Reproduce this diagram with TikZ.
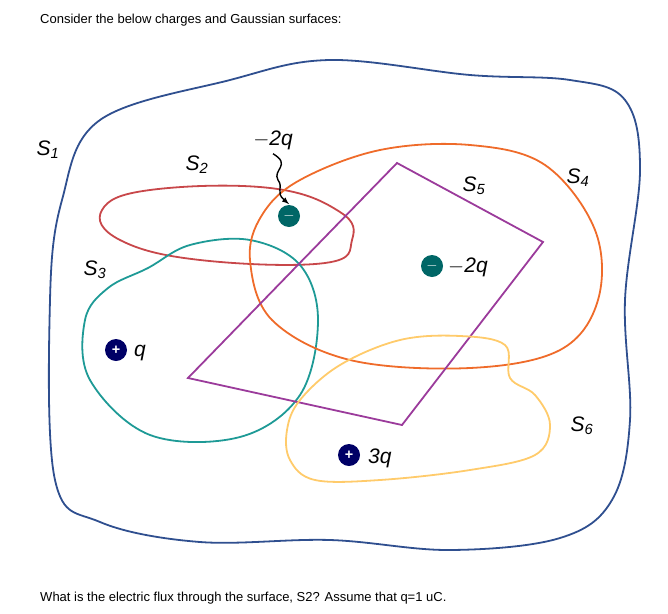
\documentclass[tikz,border=0pt]{standalone}
\usepackage{fontspec}
\setmainfont{Liberation Sans}
\definecolor{sone}{HTML}{2F4F8F}
\definecolor{stwo}{HTML}{C8474A}
\definecolor{sthree}{HTML}{1E9A96}
\definecolor{sfour}{HTML}{EF6B2A}
\definecolor{sfive}{HTML}{9B3B9B}
\definecolor{ssix}{HTML}{FFCB6B}
\begin{document}
\begin{tikzpicture}[x=1pt,y=-1pt,line width=1.8pt,
 lab/.style={font=\fontsize{21}{21}\selectfont\itshape},
 txt/.style={font=\fontsize{13}{15}\selectfont,anchor=west},
 negq/.style={circle,fill=teal!80!black,minimum size=22pt,inner sep=0pt,text=white,font=\bfseries\Large},
 posq/.style={circle,fill=blue!40!black,minimum size=22pt,inner sep=0pt,text=white,font=\bfseries\Large}]
\useasboundingbox (0,0) rectangle (668,613);
\node[txt] (t1) at (36,20) {Consider the below charges and Gaussian surfaces:};
\node[txt] (t2) at (36,598) {What is the electric flux through the surface, S2? Assume that q=1 uC.};
% S1
\draw[color=sone] plot[smooth cycle,tension=0.6] coordinates{(100,120)(230,80)(330,60)(470,75)(570,80)(625,100)(640,170)(625,300)(630,420)(612,500)(560,538)(450,550)(330,540)(200,542)(100,522)(55,480)(50,300)(62,200)};
% S2
\draw[color=stwo] plot[smooth cycle,tension=0.7] coordinates{(102,210)(150,190)(270,188)(340,212)(352,240)(325,263)(200,260)(120,240)};
% S3
\draw[color=sthree] plot[smooth cycle,tension=0.6] coordinates{(148,268)(190,245)(250,240)(300,265)(318,320)(300,395)(240,437)(150,435)(90,380)(85,320)(108,288)};
% S4
\draw[color=sfour] plot[smooth cycle,tension=0.6] coordinates{(262,215)(300,180)(380,150)(470,145)(545,165)(595,230)(598,300)(560,350)(470,368)(350,360)(272,320)(250,260)};
% S5
\draw[color=sfive] (397,163) -- (543,242) -- (402,425) -- (188,378) -- cycle;
% S6
\draw[color=ssix] plot[smooth cycle,tension=0.6] coordinates{(287,430)(300,400)(340,365)(400,340)(460,336)(505,345)(510,378)(535,395)(550,425)(535,455)(470,470)(380,480)(315,480)(290,460)};
% charges
\node[negq] (c1) at (289,216) {$-$};
\node[negq] (c2) at (432,266) {$-$};
\node[posq] (c3) at (116,350) {+};
\node[posq] (c4) at (349,455) {+};
\node[lab] (l1) at (273,140) {$-$2q};
\node[lab,anchor=west] (l2) at (444,267) {$-$2q};
\node[lab,anchor=west] (l3) at (130,353) {q};
\node[lab,anchor=west] (l4) at (364,458) {3q};
\draw[line width=1.4pt,-{latex}] (l1.south) .. controls (292,165) and (272,170) .. (278,180) .. controls (284,188) and (275,192) .. (c1.north);
% labels
\node[lab] (s1) at (48,150) {S\textsubscript{1}};
\node[lab] (s2) at (197,165) {S\textsubscript{2}};
\node[lab] (s3) at (95,270) {S\textsubscript{3}};
\node[lab] (s4) at (578,178) {S\textsubscript{4}};
\node[lab] (s5) at (474,186) {S\textsubscript{5}};
\node[lab] (s6) at (582,426) {S\textsubscript{6}};
\end{tikzpicture}
\end{document}
